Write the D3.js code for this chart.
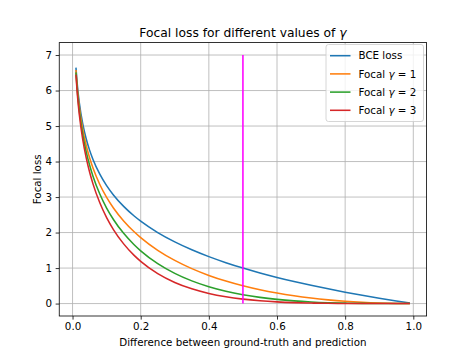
<!DOCTYPE html>
<html><head><meta charset="utf-8">
<script src="https://cdn.jsdelivr.net/npm/d3@7"></script>
<style>body{margin:0;background:#fff;} svg{display:block;font-family:"DejaVu Sans",sans-serif;}</style>
</head><body>
<svg id="c" width="474" height="355"></svg>
<script>
const xValues = [0.01,0.015,0.02,0.03,0.04,0.05,0.06,0.08,0.10,0.12,0.15,0.18,0.20,0.25,0.30,0.35,0.40,0.45,0.50,0.55,0.60,0.65,0.70,0.75,0.80,0.85,0.90,0.95,0.99];
const bceLoss = [6.6439,6.0589,5.6439,5.0589,4.6439,4.3219,4.0589,3.6439,3.3219,3.0589,2.7370,2.4739,2.3219,2.0000,1.7370,1.5146,1.3219,1.1520,1.0000,0.8625,0.7370,0.6215,0.5146,0.4150,0.3219,0.2345,0.1520,0.0740,0.0145];
const focal1 = [6.5775,5.9680,5.5310,4.9071,4.4581,4.1058,3.8154,3.3524,2.9897,2.6918,2.3265,2.0286,1.8575,1.5000,1.2159,0.9845,0.7931,0.6336,0.5000,0.3881,0.2948,0.2175,0.1544,0.1038,0.0644,0.0352,0.0152,0.0037,0.0001];
const focal2 = [6.5117,5.8785,5.4204,4.7599,4.2798,3.9005,3.5865,3.0842,2.6907,2.3688,1.9775,1.6635,1.4860,1.1250,0.8511,0.6399,0.4759,0.3485,0.2500,0.1746,0.1179,0.0761,0.0463,0.0259,0.0129,0.0053,0.0015,0.0002,0.0000];
const focal3 = [6.4466,5.7903,5.3120,4.6171,4.1086,3.7055,3.3713,2.8375,2.4216,2.0845,1.6809,1.3641,1.1888,0.8438,0.5958,0.4159,0.2855,0.1917,0.1250,0.0786,0.0472,0.0266,0.0139,0.0065,0.0026,0.0008,0.0002,0.0000,0.0000];
const seriesNames = ["BCE loss","Focal γ = 1","Focal γ = 2","Focal γ = 3"];
const seriesColors = ["#1f77b4","#ff7f0e","#2ca02c","#d62728"];
const vlineX = [0.5];
const vlineY = [0, 7];
const xTicks = [0.0,0.2,0.4,0.6,0.8,1.0];
const yTicks = [0,1,2,3,4,5,6,7];

const svg = d3.select("#c");
const L = 59.25, R = 426.6, T = 42.6, B = 316.0;
const x = d3.scaleLinear().domain([-0.039, 1.039]).range([L, R]);
const y = d3.scaleLinear().domain([-0.35, 7.35]).range([B, T]);

// grid
const g = svg.append("g");
g.selectAll(".gx").data(xTicks).enter().append("line")
  .attr("x1", d=>x(d)).attr("x2", d=>x(d)).attr("y1", T).attr("y2", B)
  .attr("stroke", "#b0b0b0").attr("stroke-width", 0.8);
g.selectAll(".gy").data(yTicks).enter().append("line")
  .attr("y1", d=>y(d)).attr("y2", d=>y(d)).attr("x1", L).attr("x2", R)
  .attr("stroke", "#b0b0b0").attr("stroke-width", 0.8);

const allSeries = [bceLoss, focal1, focal2, focal3];
const line = d3.line().x((d,i)=>x(xValues[i])).y(d=>y(d)).curve(d3.curveMonotoneX);
allSeries.forEach((s,k)=>{
  svg.append("path").attr("d", line(s)).attr("fill","none")
    .attr("stroke", seriesColors[k]).attr("stroke-width", 1.55);
});

svg.append("line").attr("x1", x(vlineX[0])).attr("x2", x(vlineX[0]))
  .attr("y1", y(vlineY[0])).attr("y2", y(vlineY[1]))
  .attr("stroke", "#ff00ff").attr("stroke-width", 1.55);

// axes
const xa = svg.append("g").attr("transform", `translate(0,${B})`)
  .call(d3.axisBottom(x).tickValues(xTicks).tickFormat(d3.format(".1f")).tickSize(3.6).tickPadding(3.5));
const ya = svg.append("g").attr("transform", `translate(${L},0)`)
  .call(d3.axisLeft(y).tickValues(yTicks).tickFormat(d3.format("d")).tickSize(3.6).tickPadding(3.5));
[xa, ya].forEach(a=>{
  a.select(".domain").remove();
  a.selectAll("line").attr("stroke","#000").attr("stroke-width",0.8);
  a.selectAll("text").attr("font-family","DejaVu Sans").attr("font-size",10.3).attr("fill","#000");
});
svg.append("rect").attr("x", L).attr("y", T).attr("width", R-L).attr("height", B-T)
  .attr("fill","none").attr("stroke","#000").attr("stroke-width",0.8);

// labels
svg.append("text").attr("x", (L+R)/2).attr("y", 346).attr("text-anchor","middle")
  .attr("font-size",10.3).text("Difference between ground-truth and prediction");
svg.append("text").attr("transform", `translate(40.5,${(T+B)/2}) rotate(-90)`).attr("text-anchor","middle")
  .attr("font-size",10.3).text("Focal loss");
const title = svg.append("text").attr("x", (L+R)/2).attr("y", 36.5).attr("text-anchor","middle")
  .attr("font-size",12.3);
title.append("tspan").text("Focal loss for different values of ");
title.append("tspan").attr("font-style","italic").text("γ");

// legend
const lg = svg.append("g");
lg.append("rect").attr("x", 326).attr("y", 44.5).attr("width", 97.5).attr("height", 77)
  .attr("rx", 2.5).attr("fill","#fff").attr("fill-opacity",0.8).attr("stroke","#cccccc").attr("stroke-width",0.8);
seriesNames.forEach((n,k)=>{
  const yy = 55.7 + k*18.2;
  lg.append("line").attr("x1", 330).attr("x2", 350.5).attr("y1", yy).attr("y2", yy)
    .attr("stroke", seriesColors[k]).attr("stroke-width", 1.55);
  const t = lg.append("text").attr("x", 358.5).attr("y", yy+3.7).attr("font-size",10.3);
  if (k===0) t.text(n);
  else {
    const parts = n.split("γ");
    t.append("tspan").text(parts[0]);
    t.append("tspan").attr("font-style","italic").text("γ");
    t.append("tspan").text(parts[1]);
  }
});
</script>
</body></html>
